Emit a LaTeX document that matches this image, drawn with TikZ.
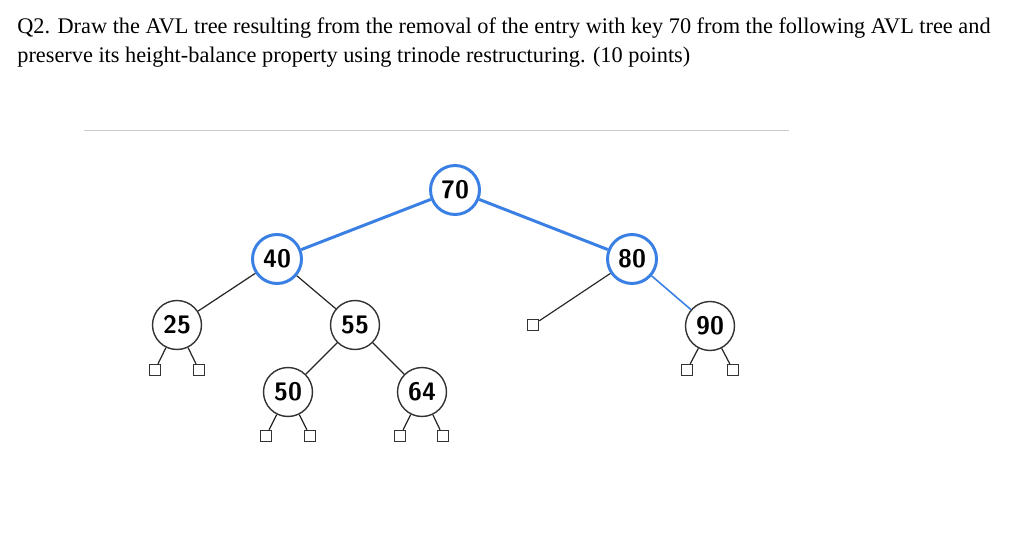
\documentclass[tikz,border=0pt]{standalone}
\usepackage{fontspec}
\setmainfont{Liberation Serif}
\usepackage{tikz}
\definecolor{avlblue}{RGB}{58,128,228}

\begin{document}
\begin{tikzpicture}[x=0.02cm,y=-0.02cm,
   vertex/.style={circle,draw=black!80,line width=0.8pt,minimum size=0.98cm,inner sep=0pt,
      font=\sffamily\bfseries\Large},
   hot/.style={vertex,draw=avlblue,line width=1.7pt},
   leaf/.style={rectangle,draw=black!80,line width=0.8pt,minimum size=0.22cm,inner sep=0pt},
   edge/.style={draw=black!85,line width=0.7pt},
   hotedge/.style={draw=avlblue,line width=1.7pt},
   title/.style={anchor=base west,inner sep=0pt,font=\fontsize{12.7}{15}\selectfont}]
   \useasboundingbox (0,0) rectangle (1024,537);

   \node[title] (q1) at (17,34)
      {Q2. Draw the AVL tree resulting from the removal of the entry with key 70 from the following AVL tree and};
   \node[title] (q2) at (17,63)
      {preserve its height-balance property using trinode restructuring. (10 points)};

   \coordinate (rl) at (84,130);
   \coordinate (rr) at (789,130);
   \draw[black!20,line width=0.5pt] (rl) -- (rr);

   % internal nodes
   \node[hot]    (n70) at (455,190) {70};
   \node[hot]    (n40) at (277,259) {40};
   \node[hot]    (n80) at (632,259) {80};
   \node[vertex] (n25) at (177,325) {25};
   \node[vertex] (n55) at (355,325) {55};
   \node[vertex] (n90) at (710,326) {90};
   \node[vertex] (n50) at (288,392) {50};
   \node[vertex] (n64) at (422,392) {64};

   % external nodes
   \node[leaf] (e25a) at (155,370) {};
   \node[leaf] (e25b) at (199,370) {};
   \node[leaf] (e80a) at (533,325) {};
   \node[leaf] (e90a) at (687,370) {};
   \node[leaf] (e90b) at (733,370) {};
   \node[leaf] (e50a) at (266,436) {};
   \node[leaf] (e50b) at (310,436) {};
   \node[leaf] (e64a) at (400,436) {};
   \node[leaf] (e64b) at (443,436) {};

   \draw[hotedge] (n70) -- (n40);
   \draw[hotedge] (n70) -- (n80);
   \draw[avlblue,line width=0.9pt] (n80) -- (n90);
   \draw[edge] (n40) -- (n25);
   \draw[edge] (n40) -- (n55);
   \draw[edge] (n55) -- (n50);
   \draw[edge] (n55) -- (n64);
   \draw[edge] (n80) -- (e80a);
   \draw[edge] (n25) -- (e25a);
   \draw[edge] (n25) -- (e25b);
   \draw[edge] (n90) -- (e90a);
   \draw[edge] (n90) -- (e90b);
   \draw[edge] (n50) -- (e50a);
   \draw[edge] (n50) -- (e50b);
   \draw[edge] (n64) -- (e64a);
   \draw[edge] (n64) -- (e64b);
\end{tikzpicture}
\end{document}
